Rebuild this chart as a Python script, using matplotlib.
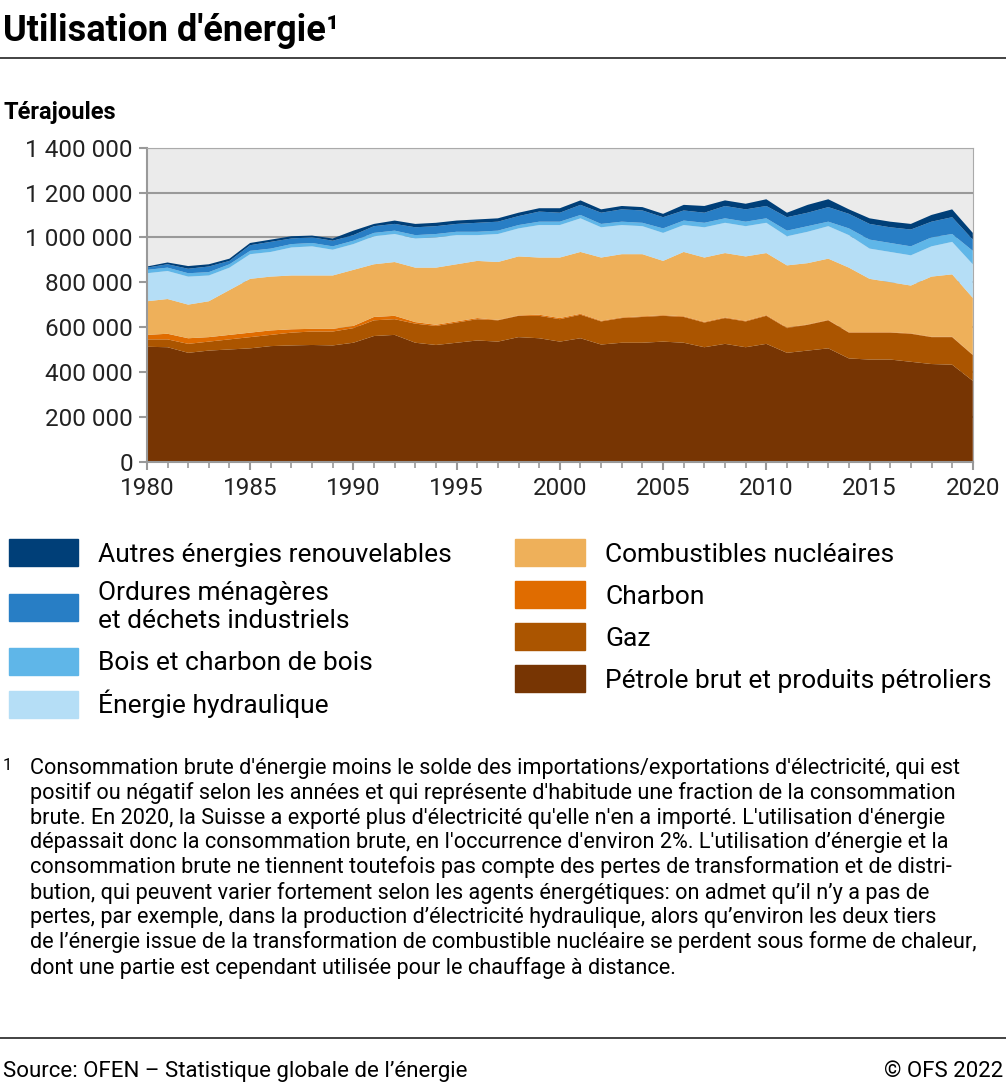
import numpy as np
import matplotlib.pyplot as plt
from matplotlib.patches import Patch
from matplotlib.ticker import FuncFormatter

plt.rcParams['font.family'] = ['Roboto', 'DejaVu Sans']

years = np.arange(1980, 2021)

# cumulative tops, in thousand TJ
top_petrole = [512, 510, 485, 495, 500, 505, 515, 518, 520, 518, 530, 560, 565, 530, 520, 530, 540, 535, 555, 550,
               535, 550, 522, 530, 530, 535, 530, 510, 525, 510, 525, 485, 495, 505, 460, 455, 455, 445, 435, 432, 360]
top_gaz = [545, 545, 525, 535, 545, 555, 565, 575, 580, 580, 595, 630, 635, 615, 605, 620, 635, 630, 650, 650,
           635, 655, 625, 640, 645, 650, 645, 620, 640, 625, 650, 595, 610, 630, 575, 575, 575, 570, 555, 555, 475]
top_charbon = [565, 570, 550, 555, 565, 575, 585, 590, 592, 592, 605, 645, 650, 622, 610, 625, 640, 632, 652, 655,
               640, 659, 628, 643, 648, 653, 648, 623, 643, 628, 653, 598, 612, 632, 577, 577, 577, 572, 557, 557, 477]
top_nucleaire = [715, 725, 700, 715, 765, 815, 825, 830, 830, 830, 855, 880, 890, 865, 865, 880, 895, 890, 915, 910,
                 910, 935, 910, 925, 925, 895, 935, 910, 930, 915, 930, 875, 885, 905, 865, 815, 800, 785, 825, 835, 730]
top_hydro = [840, 850, 825, 830, 865, 925, 935, 955, 960, 945, 970, 1005, 1015, 995, 1000, 1010, 1010, 1015, 1040, 1055,
             1055, 1085, 1045, 1055, 1050, 1020, 1055, 1045, 1065, 1050, 1065, 1005, 1025, 1050, 1010, 950, 935, 920, 960, 980, 880]
top_bois = [855, 865, 840, 845, 880, 940, 950, 970, 975, 960, 985, 1020, 1030, 1010, 1015, 1025, 1025, 1030, 1055, 1070,
            1070, 1100, 1060, 1070, 1065, 1040, 1075, 1065, 1085, 1070, 1085, 1030, 1050, 1070, 1040, 990, 975, 960, 1000, 1015, 940]
top_ordures = [865, 880, 860, 870, 895, 965, 980, 995, 1000, 985, 1010, 1050, 1060, 1045, 1050, 1060, 1065, 1070, 1095, 1115,
               1110, 1145, 1110, 1125, 1120, 1090, 1120, 1110, 1140, 1125, 1140, 1090, 1110, 1135, 1105, 1060, 1045, 1035, 1070, 1090, 990]
top_autres = [870, 888, 872, 880, 905, 975, 990, 1005, 1008, 995, 1030, 1060, 1075, 1060, 1065, 1075, 1080, 1085, 1110, 1130,
              1130, 1165, 1125, 1140, 1135, 1105, 1145, 1140, 1165, 1150, 1170, 1110, 1145, 1170, 1125, 1085, 1070, 1060, 1100, 1125, 1020]

labels = ["Pétrole brut et produits pétroliers", "Gaz", "Charbon", "Combustibles nucléaires",
          "Énergie hydraulique", "Bois et charbon de bois", "Ordures ménagères\net déchets industriels",
          "Autres énergies renouvelables"]
colors = ["#773503", "#ab5500", "#e06c00", "#eeb05a", "#b5def6", "#5fb6e8", "#287ec5", "#003f78"]

tops = np.array([top_petrole, top_gaz, top_charbon, top_nucleaire, top_hydro,
                 top_bois, top_ordures, top_autres]) * 1000
layers = np.diff(np.vstack([np.zeros(len(years)), tops]), axis=0)

fig = plt.figure(figsize=(10.06, 10.86), dpi=100)
ax = fig.add_axes([0.146, 0.575, 0.821, 0.289])
ax.set_facecolor("#ebebeb")
ax.stackplot(years, layers, colors=colors, linewidth=0)
ax.set_xlim(1980, 2020)
ax.set_ylim(0, 1400000)
ax.set_yticks(np.arange(0, 1400001, 200000))
ax.yaxis.set_major_formatter(FuncFormatter(lambda v, p: f"{int(v):,}".replace(",", " ")))
ax.set_xticks(np.arange(1980, 2021, 5))
ax.set_xticks(np.arange(1980, 2021, 1), minor=True)
ax.grid(axis="y", color="#999999", linewidth=1.5)
ax.set_axisbelow(True)
for s in ["top", "right"]:
    ax.spines[s].set_color("#aaaaaa")
for s in ["left", "bottom"]:
    ax.spines[s].set_color("#999999")
    ax.spines[s].set_linewidth(1.5)
ax.tick_params(labelsize=17.5, colors="#999999", labelcolor="#222222", length=6, width=1.5)
ax.tick_params(which="minor", length=4, width=1.2, colors="#999999")
ax.tick_params(axis="x", pad=5)
ax.tick_params(axis="y", pad=4)

fig.text(0.003, 0.988, "Utilisation d'énergie¹", fontsize=26, fontweight="bold", va="top")
fig.add_artist(plt.Line2D([0, 1], [0.947, 0.947], color="#222222", linewidth=1.2))
fig.text(0.003, 0.896, "Térajoules", fontsize=17, fontweight="bold", va="center")

handles = [Patch(color=c, label=l) for c, l in zip(colors, labels)]
order = [7, 6, 5, 4, 3, 2, 1, 0]
fig.legend([handles[i] for i in order], [labels[i] for i in order], ncol=2, frameon=False,
           loc="upper left", bbox_to_anchor=(-0.002, 0.513), fontsize=19,
           handlelength=2.65, handleheight=1.2, handletextpad=0.75, columnspacing=2.4,
           labelspacing=0.55, borderaxespad=0)

note = ("Consommation brute d'énergie moins le solde des importations/exportations d'électricité, qui est\n"
        "positif ou négatif selon les années et qui représente d'habitude une fraction de la consommation\n"
        "brute. En 2020, la Suisse a exporté plus d'électricité qu'elle n'en a importé. L'utilisation d'énergie\n"
        "dépassait donc la consommation brute, en l'occurrence d'environ 2%. L'utilisation d’énergie et la\n"
        "consommation brute ne tiennent toutefois pas compte des pertes de transformation et de distri-\n"
        "bution, qui peuvent varier fortement selon les agents énergétiques: on admet qu’il n’y a pas de\n"
        "pertes, par exemple, dans la production d’électricité hydraulique, alors qu’environ les deux tiers\n"
        "de l’énergie issue de la transformation de combustible nucléaire se perdent sous forme de chaleur,\n"
        "dont une partie est cependant utilisée pour le chauffage à distance.")
fig.text(0.003, 0.302, "1", fontsize=12, va="top")
fig.text(0.030, 0.302, note, fontsize=15.6, va="top", linespacing=1.2)

fig.add_artist(plt.Line2D([0, 1], [0.044, 0.044], color="#222222", linewidth=1.2))
fig.text(0.003, 0.008, "Source: OFEN – Statistique globale de l’énergie", fontsize=16)
fig.text(0.997, 0.008, "© OFS 2022", fontsize=16, ha="right")

fig.savefig("out.png", dpi=100)
